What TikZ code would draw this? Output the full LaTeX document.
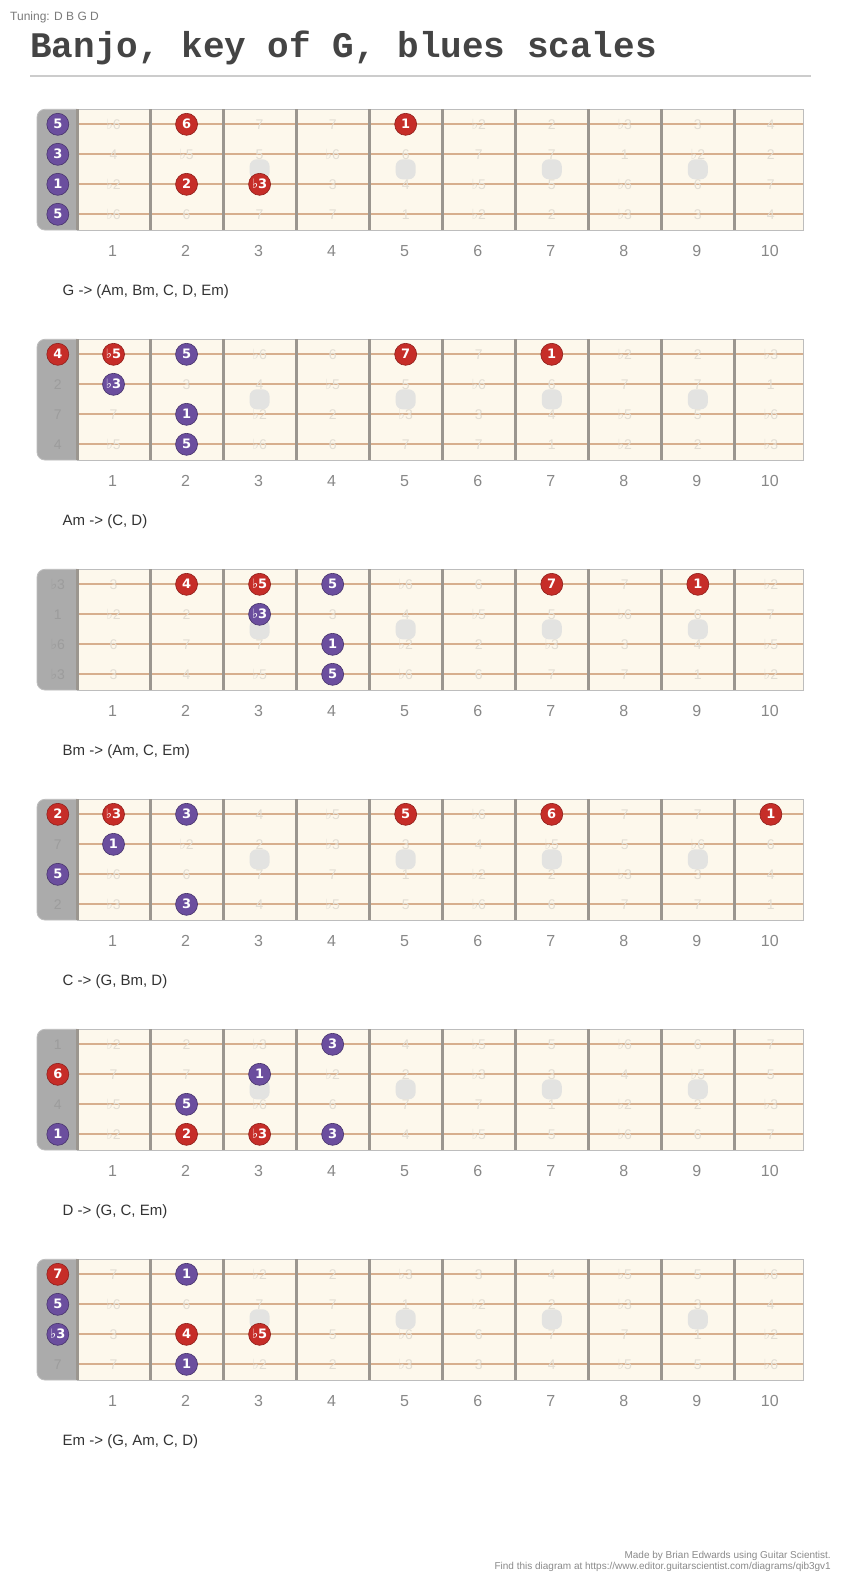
\documentclass[tikz,border=0pt]{standalone}
\usepackage{fontspec}
\setmainfont{Liberation Sans}
\newfontfamily\djv{DejaVu Sans}
\newfontfamily\titlefont{Liberation Mono}
\newcommand\fl{{\djv\char"266D}}
\newcommand\ivl[1]{\ifcase#1 1\or\fl2\or2\or\fl3\or3\or4\or\fl5\or5\or\fl6\or6\or7\or7\fi}
\definecolor{boardc}{HTML}{FDF8EC}
\definecolor{nutc}{HTML}{ABABAB}
\definecolor{borderc}{HTML}{BDBDBD}
\definecolor{stringc}{HTML}{D7AF8E}
\definecolor{fretc}{HTML}{9B968F}
\definecolor{inlayc}{HTML}{E3E3E1}
\definecolor{ghostc}{HTML}{E2DDD3}
\definecolor{nutghostc}{HTML}{9C9C9C}
\definecolor{hlR}{HTML}{C62D28}
\definecolor{hlP}{HTML}{6B4E9E}
\definecolor{hlRd}{HTML}{8E1E1A}
\definecolor{hlPd}{HTML}{46326B}
\definecolor{numc}{HTML}{888888}
\definecolor{titlec}{HTML}{444444}
\definecolor{labc}{HTML}{333333}
\definecolor{tunc}{HTML}{7A7A7A}
\definecolor{footc}{HTML}{8A8A8A}
\definecolor{rulec}{HTML}{CCCCCC}
\begin{document}
\begin{tikzpicture}[x=1pt,y=-1pt,
  ghost/.style={text=ghostc, font=\fontsize{14}{14}\selectfont, inner sep=0pt, anchor=base},
  nutghost/.style={ghost, text=nutghostc},
  hl/.style={circle, minimum size=22pt, inner sep=0pt, text=white, line width=0.6pt,
    text height=9.3pt, text depth=0pt, font=\djv\bfseries\fontsize{13}{13}\selectfont},
  hlr/.style={hl, fill=hlR, draw=hlRd},
  hlp/.style={hl, fill=hlP, draw=hlPd},
  fretnum/.style={text=numc, font=\fontsize{16}{16}\selectfont, anchor=base, inner sep=0pt},
  chordlab/.style={text=labc, font=\fontsize{15}{15}\selectfont, anchor=base west, inner sep=0pt},
  footer/.style={text=footc, font=\fontsize{10}{10}\selectfont, anchor=base east, inner sep=0pt}]
\fill[white] (0,0) rectangle (841,1582);
\useasboundingbox (0,0) rectangle (841,1582);
% header
\node[anchor=base west, inner sep=0pt, text=tunc, font=\fontsize{12}{12}\selectfont] (tuning) at (10,20.5) {Tuning: D B G D};
\node[anchor=base west, inner sep=0pt, text=titlec, font=\titlefont\bfseries\fontsize{36}{36}\selectfont] (title) at (30,57) {Banjo, key of G, blues scales};
\draw[rulec, line width=2pt] (30,76) -- (811,76);
% registry of highlighted positions
\foreach \di/\st/\fr/\cl in {
  0/1/0/p,0/2/0/p,0/3/0/p,0/4/0/p,0/1/2/r,0/1/5/r,0/3/2/r,0/3/3/r,
  1/1/0/r,1/1/1/r,1/1/2/p,1/1/5/r,1/1/7/r,1/2/1/p,1/3/2/p,1/4/2/p,
  2/1/2/r,2/1/3/r,2/1/4/p,2/1/7/r,2/1/9/r,2/2/3/p,2/3/4/p,2/4/4/p,
  3/1/0/r,3/1/1/r,3/1/2/p,3/1/5/r,3/1/7/r,3/1/10/r,3/2/1/p,3/3/0/p,3/4/2/p,
  4/1/4/p,4/2/0/r,4/2/3/p,4/3/2/p,4/4/0/p,4/4/2/r,4/4/3/r,4/4/4/p,
  5/1/0/r,5/1/2/p,5/2/0/p,5/3/0/p,5/3/2/r,5/3/3/r,5/4/2/p}
  {\expandafter\xdef\csname hl-\di-\st-\fr\endcsname{\cl}}
% diagrams
\foreach \di/\rt/\lab in {0/7/{G -> (Am, Bm, C, D, Em)}, 1/9/{Am -> (C, D)}, 2/11/{Bm -> (Am, C, Em)},
  3/0/{C -> (G, Bm, D)}, 4/2/{D -> (G, C, Em)}, 5/4/{Em -> (G, Am, C, D)}}{
  \pgfmathsetmacro\T{109.3+230*\di}
  \pgfmathsetmacro\Bt{230+230*\di}
  \pgfmathsetmacro\ynum{\Bt+26.5}
  \pgfmathsetmacro\ylab{\Bt+65.5}
  \fill[nutc, rounded corners=8pt] (37,\T) rectangle (90,\Bt);
  \fill[boardc] (77,\T) rectangle (803.3,\Bt);
  \draw[borderc, line width=0.8pt] (77,\T) -- (803.3,\T) -- (803.3,\Bt) -- (77,\Bt);
  \draw[borderc, line width=0.8pt, rounded corners=8pt] (77,\T) -- (37,\T) -- (37,\Bt) -- (77,\Bt);
  \foreach \st in {1,...,4}{
    \pgfmathsetmacro\yy{\T+15+30*(\st-1)}
    \draw[stringc, line width=2pt] (77,\yy) -- (803.3,\yy);
  }
  \foreach \fr in {3,5,7,9}{
    \pgfmathsetmacro\cx{77+73.04*(\fr-0.5)}
    \pgfmathsetmacro\ia{\T+50}
    \pgfmathsetmacro\ib{\T+70}
    \fill[inlayc, rounded corners=7pt] (\cx-10,\ia) rectangle (\cx+10,\ib);
  }
  \foreach \k in {0,...,9}{
    \pgfmathsetmacro\fx{77+73.04*\k}
    \draw[fretc, line width=3pt] (\fx,\T) -- (\fx,\Bt);
  }
  \foreach \st in {1,...,4}{
    \pgfmathsetmacro\yy{\T+15+30*(\st-1)}
    \pgfmathsetmacro\yb{\yy+5}
    \pgfmathtruncatemacro\p{{2,11,7,2}[\st-1]}
    \foreach \fr in {0,...,10}{
      \pgfmathsetmacro\cx{\fr==0 ? 57.8 : 77+73.04*(\fr-0.5)}
      \pgfmathtruncatemacro\iv{mod(\p+\fr-\rt+24,12)}
      \ifcsname hl-\di-\st-\fr\endcsname
        \node[hl\csname hl-\di-\st-\fr\endcsname] (c-\di-\st-\fr) at (\cx,\yy) {\ivl{\iv}};
      \else
        \ifnum\fr=0
          \node[nutghost] (g-\di-\st-\fr) at (\cx,\yb) {\ivl{\iv}};
        \else
          \node[ghost] (g-\di-\st-\fr) at (\cx,\yb) {\ivl{\iv}};
        \fi
      \fi
    }
  }
  \foreach \k in {1,...,10}{
    \pgfmathsetmacro\nx{76+73.04*(\k-0.5)}
    \node[fretnum] (n-\di-\k) at (\nx,\ynum) {\k};
  }
  \node[chordlab] (lab-\di) at (62.5,\ylab) {\lab};
}
\node[footer] (foot1) at (831,1558.7) {Made by Brian Edwards using Guitar Scientist.};
\node[footer] (foot2) at (831,1569.3) {Find this diagram at https://www.editor.guitarscientist.com/diagrams/qib3gv1};
\end{tikzpicture}
\end{document}
